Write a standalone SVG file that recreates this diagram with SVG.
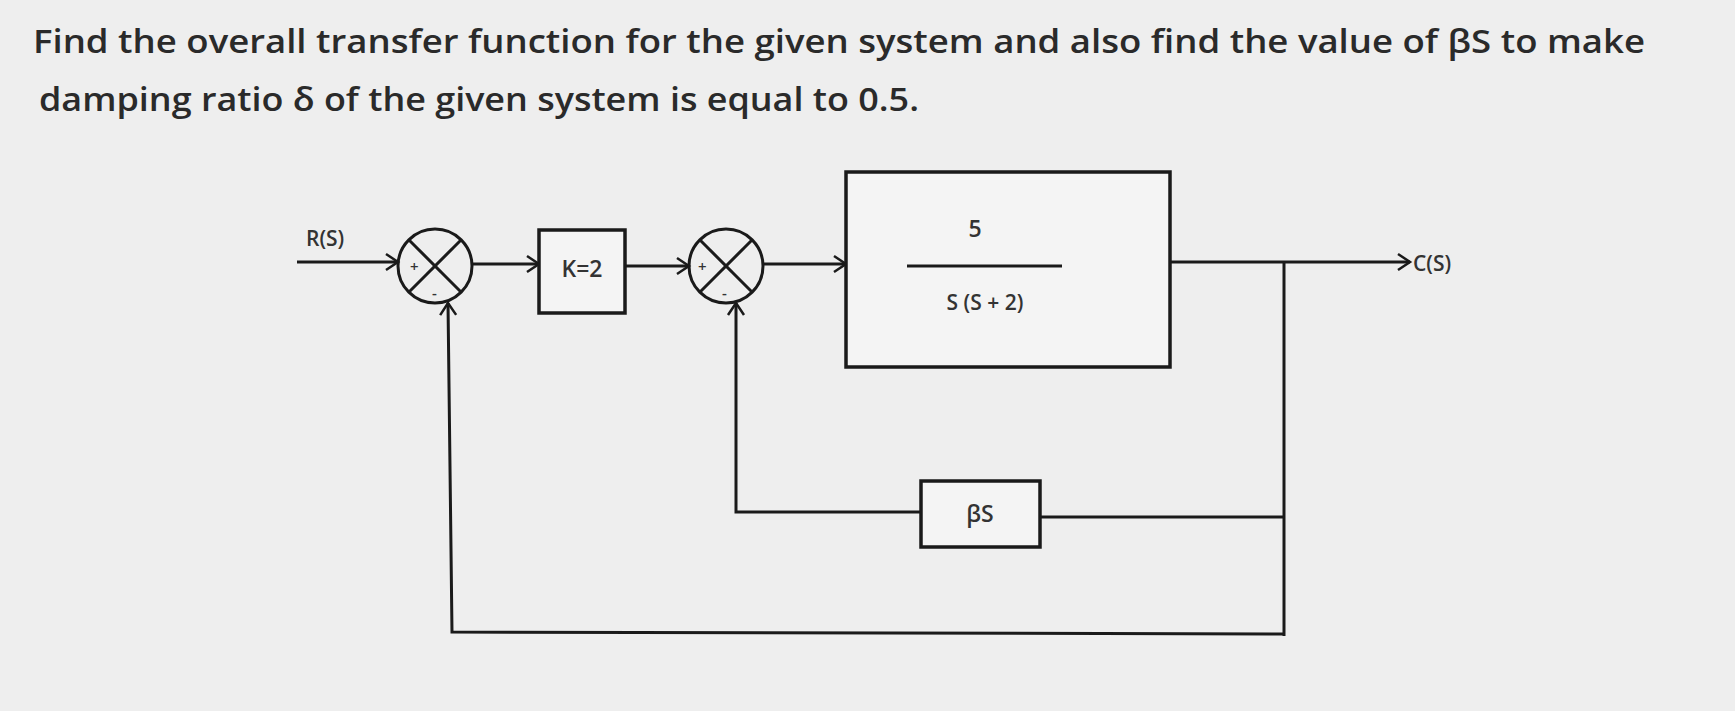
<svg xmlns="http://www.w3.org/2000/svg" width="1735" height="711" viewBox="0 0 1735 711">
<style>
.t{font-family:"Open Sans","Liberation Sans",sans-serif;font-weight:600;fill:#2a2a2a}
.l{font-family:"Open Sans","Liberation Sans",sans-serif;font-weight:600;fill:#333}
.w{stroke:#1a1a1a;stroke-width:3;fill:none}
.b{stroke:#1a1a1a;stroke-width:3.5;fill:#f4f4f4}
</style>
<defs>
<marker id="v" viewBox="0 0 20 20" refX="14" refY="10" markerWidth="20" markerHeight="20" markerUnits="userSpaceOnUse" orient="auto">
<polyline points="2,2 14,10 2,18" fill="none" stroke="#1a1a1a" stroke-width="2.5"/>
</marker>
</defs>
<rect width="1735" height="711" fill="#eeeeee"/>
<text class="t" x="33" y="53" font-size="33" textLength="1612" lengthAdjust="spacingAndGlyphs">Find the overall transfer function for the given system and also find the value of βS to make</text>
<text class="t" x="39" y="111" font-size="33" textLength="880" lengthAdjust="spacingAndGlyphs">damping ratio δ of the given system is equal to 0.5.</text>
<g id="connectors">
<line class="w" x1="297" y1="262" x2="398" y2="262" marker-end="url(#v)"/>
<line class="w" x1="472" y1="264" x2="539" y2="264" marker-end="url(#v)"/>
<line class="w" x1="625" y1="266" x2="689" y2="266" marker-end="url(#v)"/>
<line class="w" x1="763" y1="264" x2="846" y2="264" marker-end="url(#v)"/>
<line class="w" x1="1158" y1="262" x2="1410" y2="262" marker-end="url(#v)"/>
<polyline class="w" points="1284,262 1284,636"/>
<polyline class="w" points="1040,517 1284,517"/>
<polyline class="w" points="921,512 736,512 736,303" marker-end="url(#v)"/>
<polyline class="w" points="1284,634 452,632 448,303" marker-end="url(#v)"/>
</g>
<g id="sum1">
<circle class="w" cx="435" cy="266" r="37"/>
<line class="w" x1="409" y1="240" x2="461" y2="292"/>
<line class="w" x1="461" y1="240" x2="409" y2="292"/>
<text class="l" x="410" y="272" font-size="15">+</text>
<text class="l" x="432" y="298" font-size="15">-</text>
</g>
<g id="k">
<rect class="b" x="539" y="230" width="86" height="83"/>
<text class="l" x="582" y="277" font-size="23" text-anchor="middle">K=2</text>
</g>
<g id="sum2">
<circle class="w" cx="726" cy="266" r="37"/>
<line class="w" x1="700" y1="240" x2="752" y2="292"/>
<line class="w" x1="752" y1="240" x2="700" y2="292"/>
<text class="l" x="698" y="272" font-size="15">+</text>
<text class="l" x="722" y="298" font-size="15">-</text>
</g>
<g id="plant">
<rect class="b" x="846" y="172" width="324" height="195"/>
<text class="l" x="975" y="237" font-size="23" text-anchor="middle">5</text>
<line class="w" x1="907" y1="266" x2="1062" y2="266"/>
<text class="l" x="985" y="310" font-size="21" text-anchor="middle">S (S + 2)</text>
</g>
<g id="beta">
<rect class="b" x="921" y="481" width="119" height="66"/>
<text class="l" x="980" y="522" font-size="23" text-anchor="middle">βS</text>
</g>
<text class="l" x="306" y="246" font-size="21">R(S)</text>
<text class="l" x="1413" y="271" font-size="21">C(S)</text>
</svg>
